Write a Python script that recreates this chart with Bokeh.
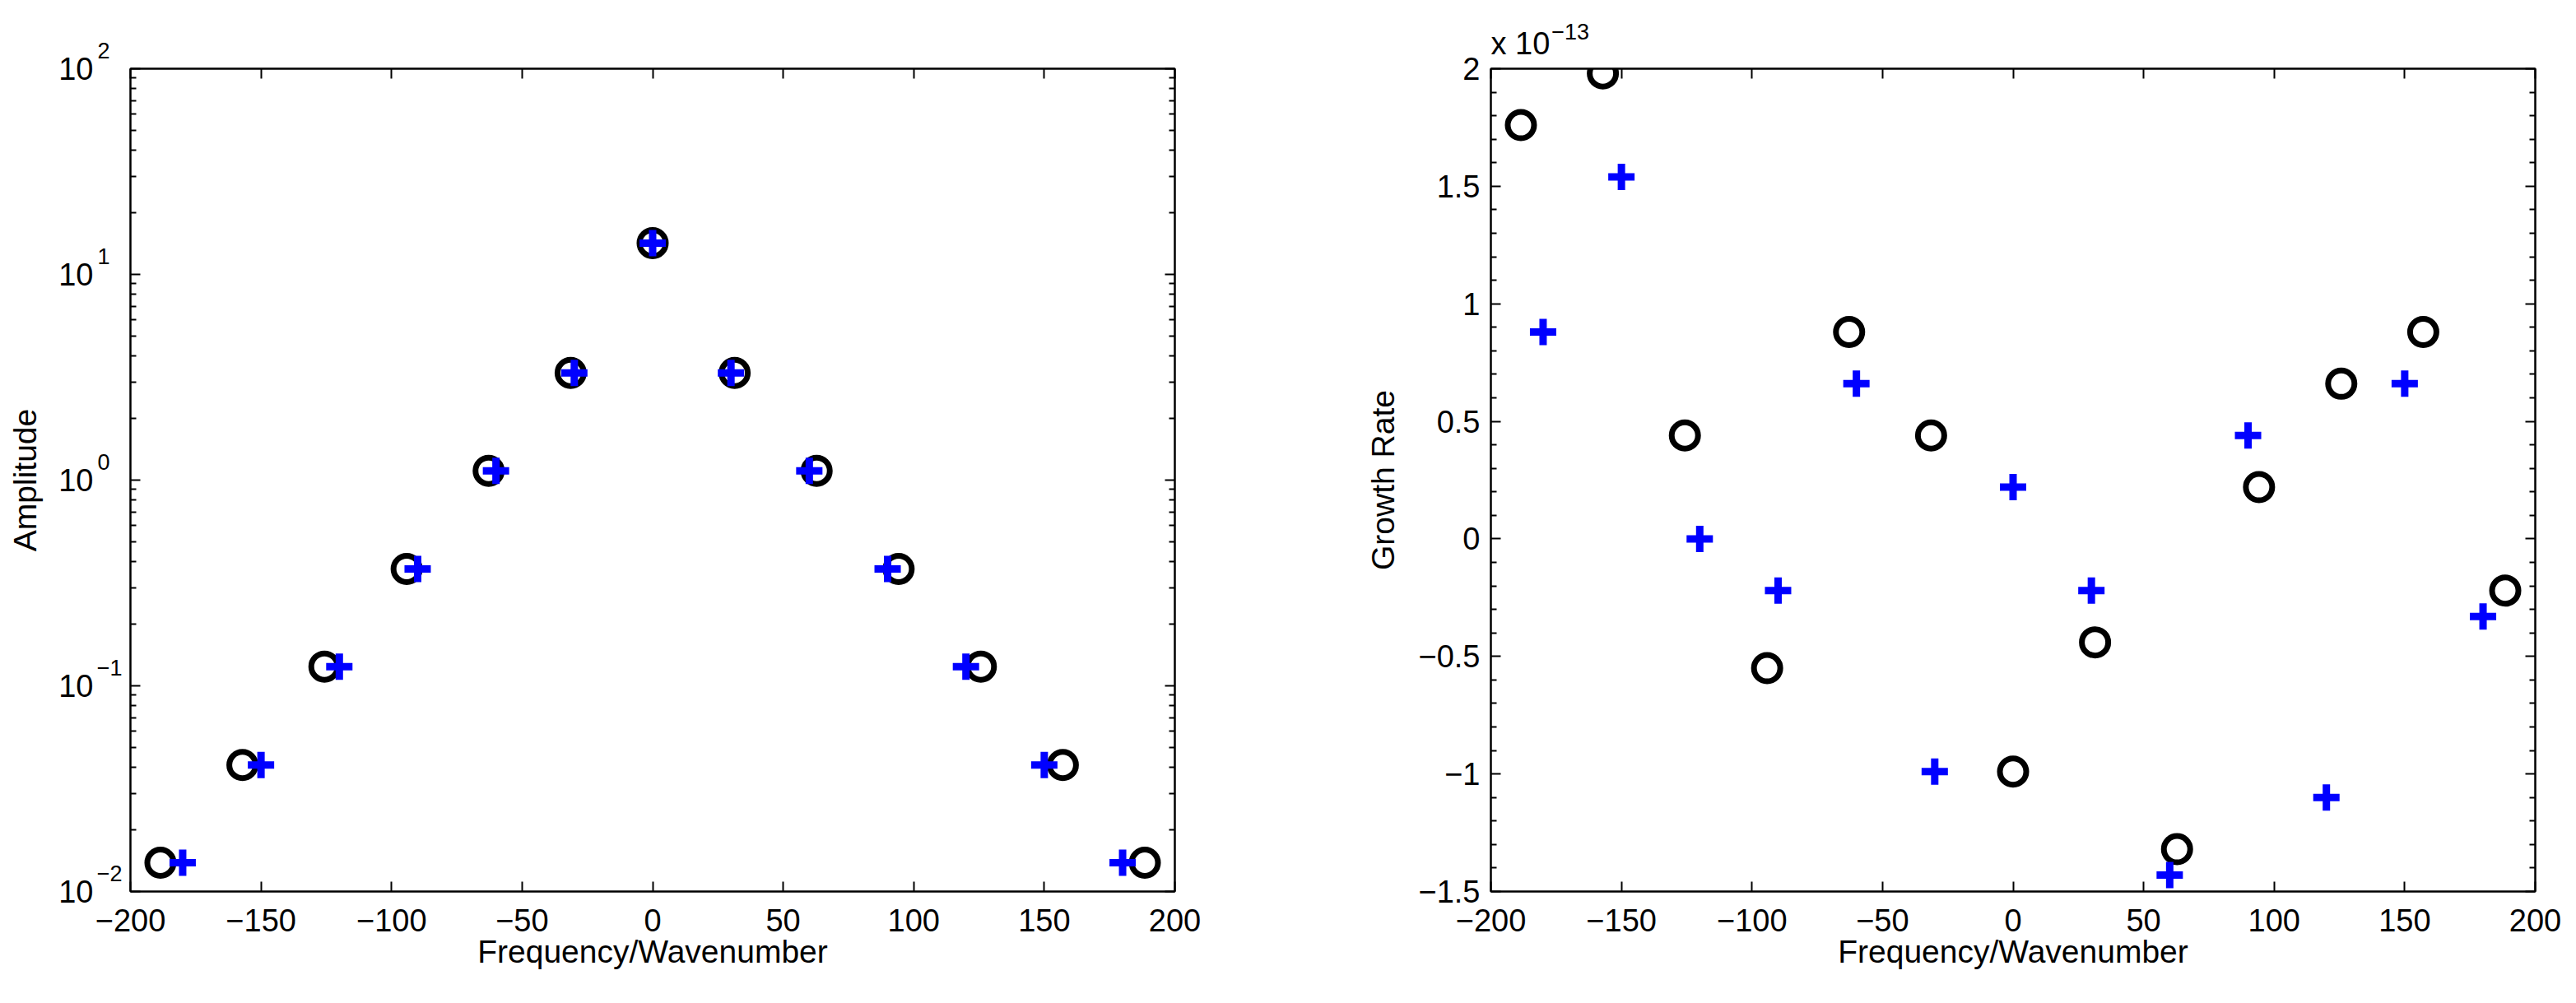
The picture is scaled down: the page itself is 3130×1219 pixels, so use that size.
import numpy as np
from bokeh.plotting import figure
from bokeh.layouts import row
from bokeh.models import Range1d, FixedTicker, LinearAxis, LogAxis
from bokeh.embed import file_html
from bokeh.resources import INLINE

# ---------------- data ----------------
freq_circle = [-188.5, -157.1, -125.7, -94.2, -62.8, -31.4, 0.0, 31.4, 62.8, 94.2, 125.7, 157.1, 188.5]
freq_plus = [-180, -150, -120, -90, -60, -30, 0, 30, 60, 90, 120, 150, 180]

amp_circle = [0.0138, 0.0412, 0.124, 0.37, 1.11, 3.32, 14.2, 3.32, 1.11, 0.37, 0.124, 0.0412, 0.0138]
amp_plus = [0.0138, 0.0412, 0.124, 0.37, 1.11, 3.32, 14.2, 3.32, 1.11, 0.37, 0.124, 0.0412, 0.0138]

growth_circle = [1.76e-13, 1.98e-13, 0.44e-13, -0.55e-13, 0.88e-13, 0.44e-13, -0.99e-13,
                 -0.44e-13, -1.32e-13, 0.22e-13, 0.66e-13, 0.88e-13, -0.22e-13]
growth_plus = [0.88e-13, 1.54e-13, 0.0, -0.22e-13, 0.66e-13, -0.99e-13, 0.22e-13,
               -0.22e-13, -1.43e-13, 0.44e-13, -1.10e-13, 0.66e-13, -0.33e-13]
growth_scale = 1e-13
growth_scale_base = "x 10"
growth_scale_exponent = "\u221213"

x_ticks = [-200, -150, -100, -50, 0, 50, 100, 150, 200]
x_tick_labels = ["\u2212200", "\u2212150", "\u2212100", "\u221250", "0", "50", "100", "150", "200"]

amp_ticks = [1e-2, 1e-1, 1.0, 1e1, 1e2]
amp_tick_base = ["10", "10", "10", "10", "10"]
amp_tick_exponents = ["\u22122", "\u22121", "0", "1", "2"]
amp_minor_ticks = [m * d for d in [1e-2, 1e-1, 1.0, 1e1] for m in [2, 3, 4, 5, 6, 7, 8, 9]]

growth_ticks = [-1.5, -1.0, -0.5, 0.0, 0.5, 1.0, 1.5, 2.0]
growth_tick_labels = ["\u22121.5", "\u22121", "\u22120.5", "0", "0.5", "1", "1.5", "2"]
growth_minor_ticks = [round(v, 1) for v in np.arange(-1.5, 2.01, 0.1) if abs(round(v * 2) - v * 2) > 1e-6]

FONT = "Liberation Sans"
TICK_PX = 38
EXP_PX = 27
TICK_SIZE = f"{TICK_PX}px"
LABEL_SIZE = "39px"
EXP_SIZE = f"{EXP_PX}px"
FRAME_W, FRAME_H = 1269, 1000


def style_axis(ax, ticker, overrides, standoff, font_size=TICK_SIZE, ticks=True, line=True):
    ax.ticker = ticker
    ax.major_label_overrides = overrides
    ax.axis_line_color = "black" if line else None
    ax.axis_line_width = 2
    ax.major_tick_line_color = "black" if ticks else None
    ax.major_tick_line_width = 2
    ax.minor_tick_line_color = "black" if ticks else None
    ax.minor_tick_line_width = 2
    ax.major_tick_in = 12 if ticks else 0
    ax.major_tick_out = 0
    ax.minor_tick_in = 7 if ticks else 0
    ax.minor_tick_out = 0
    ax.major_label_standoff = standoff
    ax.major_label_text_font = FONT
    ax.major_label_text_font_size = font_size
    ax.major_label_text_color = "black"
    ax.axis_label_text_font = FONT
    ax.axis_label_text_font_size = LABEL_SIZE
    ax.axis_label_text_font_style = "normal"
    ax.axis_label_text_color = "black"


def make_fig(y_log, y_range, border_left, border_right):
    p = figure(frame_width=FRAME_W, frame_height=FRAME_H,
               x_range=Range1d(-200, 200), y_range=y_range,
               y_axis_type="log" if y_log else "linear",
               output_backend="svg", toolbar_location=None,
               min_border_left=border_left, min_border_right=border_right,
               min_border_top=83, min_border_bottom=128)
    p.xgrid.visible = False
    p.ygrid.visible = False
    p.outline_line_color = "black"
    p.outline_line_width = 2
    p.background_fill_color = "white"
    p.border_fill_color = "white"
    return p


x_over = {t: l for t, l in zip(x_ticks, x_tick_labels)}
x_blank = {t: "" for t in x_ticks}

# ---------------- left: amplitude (log) ----------------
p1 = make_fig(True, Range1d(1e-2, 1e2), 158, 134)
style_axis(p1.below[0], FixedTicker(ticks=x_ticks, minor_ticks=[]), x_over, 21)
p1.below[0].axis_label = "Frequency/Wavenumber"
p1.below[0].axis_label_standoff = 0

# innermost left axis: ticks + raised exponents (second empty line lifts the exponent)
exp_labels = {t: (e if e.startswith("\u2212") else e + "\u2007") + "\n"
              for t, e in zip(amp_ticks, amp_tick_exponents)}
style_axis(p1.left[0], FixedTicker(ticks=amp_ticks, minor_ticks=amp_minor_ticks),
           exp_labels, 10, font_size=EXP_SIZE)
p1.left[0].major_label_text_line_height = 1.45

# outer left axis: the "10" bases and the axis title
base_axis = LogAxis()
style_axis(base_axis, FixedTicker(ticks=amp_ticks, minor_ticks=[]),
           {t: b for t, b in zip(amp_ticks, amp_tick_base)}, 1, ticks=False, line=False)
base_axis.axis_label = "Amplitude"
base_axis.axis_label_standoff = 16
p1.add_layout(base_axis, "left")

top1 = LinearAxis()
style_axis(top1, FixedTicker(ticks=x_ticks, minor_ticks=[]), x_blank, 0, font_size="0px")
p1.add_layout(top1, "above")
right1 = LogAxis()
style_axis(right1, FixedTicker(ticks=amp_ticks, minor_ticks=amp_minor_ticks),
           {t: "" for t in amp_ticks}, 0, font_size="0px")
p1.add_layout(right1, "right")

p1.scatter(freq_circle, amp_circle, marker="circle", size=32, fill_color=None,
           line_color="black", line_width=7)
p1.scatter(freq_plus, amp_plus, marker="cross", size=32,
           line_color="#0000ff", line_width=9)

# ---------------- right: growth rate ----------------
gc = list(np.array(growth_circle) / growth_scale)
gp = list(np.array(growth_plus) / growth_scale)

p2 = make_fig(False, Range1d(-1.5, 2.0), 250, 40)
style_axis(p2.below[0], FixedTicker(ticks=x_ticks, minor_ticks=[]), x_over, 21)
p2.below[0].axis_label = "Frequency/Wavenumber"
p2.below[0].axis_label_standoff = 0
style_axis(p2.left[0], FixedTicker(ticks=growth_ticks, minor_ticks=growth_minor_ticks),
           {t: l for t, l in zip(growth_ticks, growth_tick_labels)}, 13)
p2.left[0].axis_label = "Growth Rate"
p2.left[0].axis_label_standoff = 18

top2 = LinearAxis()
style_axis(top2, FixedTicker(ticks=x_ticks, minor_ticks=[]), x_blank, 0, font_size="0px")
p2.add_layout(top2, "above")
right2 = LinearAxis()
style_axis(right2, FixedTicker(ticks=growth_ticks, minor_ticks=growth_minor_ticks),
           {t: "" for t in growth_ticks}, 0, font_size="0px")
p2.add_layout(right2, "right")

# multiplier "x 10^-13" above the top-left corner, as top-axis labels
px_per_x = FRAME_W / 400.0
base_w = 1.89 * TICK_PX          # approximate advance width of "x 10"
exp_w = 1.696 * EXP_PX           # approximate advance width of "-13"
x_base = -200 + (base_w / 2) / px_per_x
x_exp = -200 + (base_w + 2 + exp_w / 2) / px_per_x

mult_axis = LinearAxis()
style_axis(mult_axis, FixedTicker(ticks=[x_base], minor_ticks=[]), {x_base: growth_scale_base},
           10, ticks=False, line=False)
p2.add_layout(mult_axis, "above")
exp_axis = LinearAxis()
style_axis(exp_axis, FixedTicker(ticks=[x_exp], minor_ticks=[]), {x_exp: growth_scale_exponent},
           -19, font_size=EXP_SIZE, ticks=False, line=False)
p2.add_layout(exp_axis, "above")

p2.scatter(freq_circle, gc, marker="circle", size=32, fill_color=None,
           line_color="black", line_width=7)
p2.scatter(freq_plus, gp, marker="cross", size=32,
           line_color="#0000ff", line_width=9)

layout = row(p1, p2)
open("out.html", "w").write(file_html(layout, INLINE))
